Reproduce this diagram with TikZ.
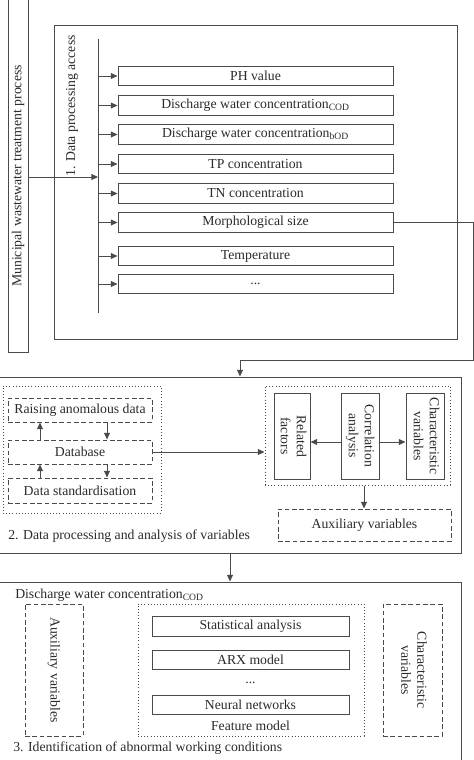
\documentclass[tikz,border=0pt]{standalone}
\usepackage{fontspec}
\setmainfont{Liberation Serif}
\usepackage{graphicx}
\usetikzlibrary{arrows.meta,fit}
\definecolor{lc}{HTML}{4A4A4A}
\definecolor{tc}{HTML}{2A2A2A}
\tikzset{
  ln/.style={draw=lc, line width=0.75pt},
  arr/.style={draw=lc, line width=0.75pt, -{Triangle[length=5pt,width=4.4pt]}},
  sbox/.style={draw=lc, line width=0.75pt, inner sep=0pt},
  dbox/.style={draw=lc, line width=0.75pt, dash pattern=on 3.5pt off 2pt, inner sep=0pt},
  dotbox/.style={draw=lc, line width=0.75pt, dash pattern=on 0.75pt off 1.6pt, inner sep=0pt},
  lbl/.style={text=tc, inner sep=0pt},
  txt/.style={label={[lbl]center:#1}}
}
\newcommand\mkitem[3]{%
  \node[sbox, txt={#3}, fit={(118,#2-9.75) (393,#2+9.75)}] (#1) {};
  \draw[arr] (bustop |- #1.west) -- (#1.west);}
\newcommand\vtwo[2]{\rotatebox{-90}{\begin{tabular}{@{}c@{}}#1\\#2\end{tabular}}}
\begin{document}
\begin{tikzpicture}[x=0.75pt,y=-0.75pt, font=\fontsize{10.3}{12}\selectfont]
\useasboundingbox (0,0) rectangle (474,760);
\clip (0,0) rectangle (474,760);

% ---------- part 1 ----------
\node[sbox, fit={(8,-10) (28,352)}] (proc) {};
\node[lbl, rotate=90] (proclbl) at (18,176) {Municipal wastewater treatment process};

\node[sbox, fit={(54,25) (457,339)}] (box1) {};
\node[lbl, rotate=90] (lbl1) at (72,106) {1. Data processing access};

\coordinate (bustop) at (98,39);
\coordinate (busbot) at (98,313);
\draw[ln] (bustop) -- (busbot);
\coordinate (busin) at (98,177);
\draw[arr] (proc.east |- busin) -- (busin);

\mkitem{ph}{76}{PH value}
\mkitem{cod}{105.5}{Discharge water concentration\textsubscript{COD}}
\mkitem{bod}{134.5}{Discharge water concentration\textsubscript{bOD}}
\mkitem{tp}{164}{TP concentration}
\mkitem{tn}{193.5}{TN concentration}
\mkitem{morph}{222.5}{Morphological size}
\mkitem{temp}{256}{Temperature}
\mkitem{more}{284}{...}

% ---------- part 2 ----------
\node[sbox, fit={(-5,377) (461,553)}] (box2) {};

\coordinate (c1) at (473,222.5);
\coordinate (c2) at (473,360);
\coordinate (c3) at (240,360);
\draw[arr] (morph.east) -- (c1) -- (c2) -- (c3) -- (c3 |- box2.north);

\node[dotbox, fit={(3,386) (161,513)}] (dotL) {};
\node[dbox, txt={Raising anomalous data}, fit={(8,398) (152,422)}] (raise) {};
\node[dbox, txt={Database}, fit={(8,440) (152,464)}] (db) {};
\node[dbox, txt={Data standardisation}, fit={(8,478) (152,503)}] (std) {};
\coordinate (xa) at (40,0);
\coordinate (xb) at (107,0);
\draw[arr] (xa |- db.north) -- (xa |- raise.south);
\draw[arr] (xb |- raise.south) -- (xb |- db.north);
\draw[arr] (xa |- std.north) -- (xa |- db.south);
\draw[arr] (xb |- db.south) -- (xb |- std.north);

\node[dotbox, fit={(265,386) (450,485)}] (dotR) {};
\draw[arr] (db.east) -- (dotR.west |- db.east);

\node[sbox, txt={\vtwo{Related}{factors}}, fit={(274,393) (310,479)}] (rel) {};
\node[sbox, txt={\vtwo{Correlation}{analysis}}, fit={(341,393) (379,479)}] (corr) {};
\node[sbox, txt={\vtwo{Characteristic}{variables}}, fit={(406,393) (444,479)}] (charA) {};
\coordinate (ay) at (0,442);
\draw[arr] (corr.west |- ay) -- (rel.east |- ay);
\draw[arr] (corr.east |- ay) -- (charA.west |- ay);

\node[dbox, txt={Auxiliary variables}, fit={(278,509) (451,541)}] (auxA) {};
\coordinate (xc) at (364,0);
\draw[arr] (xc |- dotR.south) -- (xc |- auxA.north);

\node[lbl, anchor=west] (lbl2) at (8,536) {2. Data processing and analysis of variables};

% ---------- part 3 ----------
\node[sbox, fit={(-5,582) (461,775)}] (box3) {};
\coordinate (xd) at (230,0);
\draw[arr] (xd |- box2.south) -- (xd |- box3.north);

\node[lbl, anchor=west] (codlbl) at (15,595) {Discharge water concentration\textsubscript{COD}};

\node[dbox, txt={\rotatebox{-90}{Auxiliary variables}}, fit={(25,604) (83,736)}] (auxB) {};
\node[dotbox, fit={(138,604) (364,736)}] (feat) {};
\node[sbox, txt={Statistical analysis}, fit={(152,616) (349,636)}] (stat) {};
\node[sbox, txt={ARX model}, fit={(152,650) (349,669)}] (arx) {};
\node[lbl] (dots3) at (250.5,683) {...};
\node[sbox, txt={Neural networks}, fit={(152,695) (349,714)}] (nn) {};
\node[lbl] (featlbl) at (250.5,726) {Feature model};
\node[dbox, txt={\vtwo{Characteristic}{variables}}, fit={(383,604) (442,736)}] (charB) {};

\node[lbl, anchor=west] (lbl3) at (13,748) {3. Identification of abnormal working conditions};
\end{tikzpicture}
\end{document}
